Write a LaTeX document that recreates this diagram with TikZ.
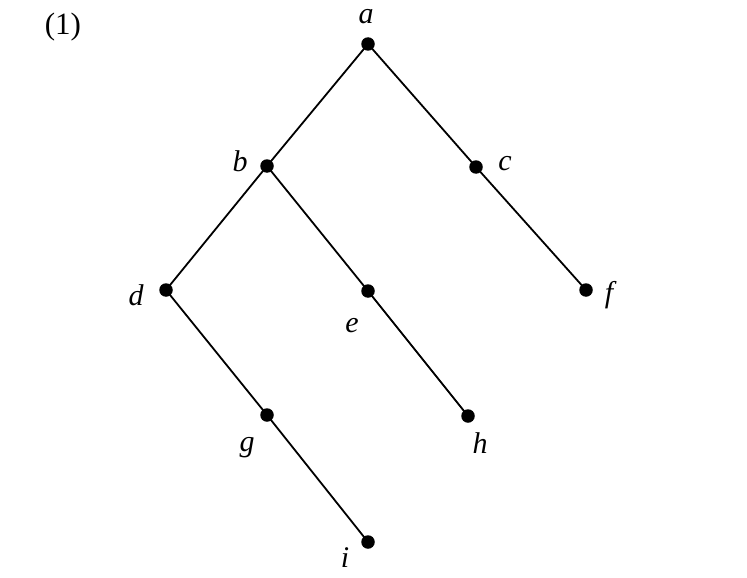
\documentclass[tikz,border=0pt]{standalone}
\usepackage{fontspec}
\setmainfont{Liberation Serif}
\begin{document}
\begin{tikzpicture}[x=1pt,y=-1pt,
  vtx/.style={circle,fill=black,inner sep=0pt,minimum size=13.5pt},
  lab/.style={font=\fontsize{30}{30}\selectfont\itshape,inner sep=0pt},
  edge/.style={line width=1.8pt}]
\useasboundingbox (0,0) rectangle (747,578);
\node[inner sep=0pt,font=\fontsize{31}{31}\selectfont] (num) at (63,27) {(1)};
\node[vtx] (a) at (368,44) {};
\node[vtx] (b) at (267,166) {};
\node[vtx] (c) at (476,167) {};
\node[vtx] (d) at (166,290) {};
\node[vtx] (e) at (368,291) {};
\node[vtx] (f) at (586,290) {};
\node[vtx] (g) at (267,415) {};
\node[vtx] (h) at (468,416) {};
\node[vtx] (i) at (368,542) {};
\node[lab] (la) at (366,17) {a};
\node[lab] (lb) at (240,161) {b};
\node[lab] (lc) at (505,164) {c};
\node[lab] (ld) at (136,295) {d};
\node[lab] (le) at (352,326) {e};
\node[lab] (lf) at (609,295) {f};
\node[lab] (lg) at (247,448) {g};
\node[lab] (lh) at (480,443) {h};
\node[lab] (li) at (345,558) {i};
\draw[edge] (a.center) -- (b.center) -- (d.center) -- (g.center) -- (i.center);
\draw[edge] (a.center) -- (c.center) -- (f.center);
\draw[edge] (b.center) -- (e.center) -- (h.center);
\end{tikzpicture}
\end{document}
